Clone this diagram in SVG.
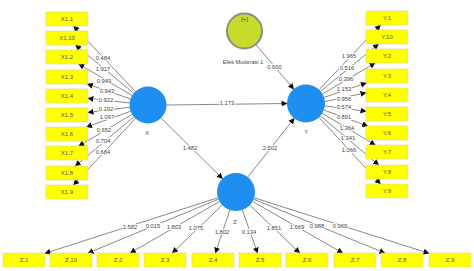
<svg xmlns="http://www.w3.org/2000/svg" width="474" height="271" viewBox="0 0 474 271">
<defs>
<marker id="ah" markerUnits="userSpaceOnUse" markerWidth="6" markerHeight="6" refX="5.5" refY="3" orient="auto">
<path d="M0,0 L6,3 L0,6 Z" fill="#111"/>
</marker>
<style>
.box{fill:#ffff00;stroke:#d8d890;stroke-width:0.6}
.bt{font-family:"Liberation Sans",Arial,sans-serif;font-size:6px;fill:#555;text-anchor:middle;dominant-baseline:central}
.lat{fill:#1e8ff0}
.mod{fill:#c6db2c;stroke:#8a8f80;stroke-width:2}
.cl{font-family:"Liberation Sans",Arial,sans-serif;font-size:5.6px;fill:#444;text-anchor:middle;dominant-baseline:central}
.ln{stroke:#555;stroke-width:0.7;fill:none;marker-end:url(#ah)}
.wl{font-family:"Liberation Sans",Arial,sans-serif;font-size:5.8px;fill:#444;text-anchor:middle;dominant-baseline:central;stroke:#fff;stroke-width:2;paint-order:stroke}
</style>
</defs>
<rect width="474" height="271" fill="#fff"/>
<g id="connectors">
<line class="ln" x1="135.7" y1="91.9" x2="73.6" y2="26"/>
<line class="ln" x1="134.1" y1="93.5" x2="75.5" y2="45"/>
<line class="ln" x1="132.5" y1="95.8" x2="78.8" y2="64"/>
<line class="ln" x1="131" y1="99.1" x2="87.3" y2="84"/>
<line class="ln" x1="130.1" y1="103" x2="88" y2="98.3"/>
<line class="ln" x1="130.1" y1="107.2" x2="88" y2="112.4"/>
<line class="ln" x1="131" y1="111.1" x2="86.5" y2="127"/>
<line class="ln" x1="132.5" y1="114.2" x2="78.8" y2="146"/>
<line class="ln" x1="134.2" y1="116.6" x2="75.3" y2="166"/>
<line class="ln" x1="135.7" y1="118.2" x2="73.5" y2="185"/>
<line class="ln" x1="319.1" y1="89.7" x2="380.4" y2="25"/>
<line class="ln" x1="320.7" y1="91.4" x2="378.5" y2="44"/>
<line class="ln" x1="322.4" y1="93.9" x2="375.1" y2="63"/>
<line class="ln" x1="324" y1="97.4" x2="366.4" y2="83"/>
<line class="ln" x1="324.9" y1="101.5" x2="366" y2="92.8"/>
<line class="ln" x1="324.8" y1="105.9" x2="366" y2="111.3"/>
<line class="ln" x1="323.9" y1="110" x2="367.8" y2="126"/>
<line class="ln" x1="322.3" y1="113.3" x2="375.3" y2="145"/>
<line class="ln" x1="320.5" y1="115.8" x2="378.7" y2="165"/>
<line class="ln" x1="318.9" y1="117.4" x2="380.5" y2="184"/>
<line class="ln" x1="217.9" y1="197.8" x2="45" y2="253.3"/>
<line class="ln" x1="218.4" y1="199.2" x2="88" y2="253"/>
<line class="ln" x1="219.5" y1="201.5" x2="130.2" y2="253"/>
<line class="ln" x1="222.3" y1="205.1" x2="172.3" y2="253"/>
<line class="ln" x1="229.9" y1="210" x2="215.4" y2="253"/>
<line class="ln" x1="242.3" y1="209.9" x2="257.5" y2="253"/>
<line class="ln" x1="249.7" y1="205.1" x2="299.7" y2="253"/>
<line class="ln" x1="252.5" y1="201.4" x2="342.7" y2="253"/>
<line class="ln" x1="253.6" y1="199.2" x2="384.9" y2="253"/>
<line class="ln" x1="254.1" y1="197.8" x2="429" y2="253.3"/>
<line class="ln" x1="166" y1="105" x2="287" y2="103.5"/>
<line class="ln" x1="160.8" y1="117.7" x2="222.5" y2="178.6"/>
<line class="ln" x1="247.8" y1="177.1" x2="294.2" y2="118.4"/>
<line class="ln" x1="256.1" y1="44.8" x2="293.7" y2="89"/>
<text class="wl" x="103" y="58">0.484</text>
<text class="wl" x="103" y="69">1.917</text>
<text class="wl" x="104" y="81">0.949</text>
<text class="wl" x="107" y="91">0.943</text>
<text class="wl" x="106" y="100">0.922</text>
<text class="wl" x="106" y="109">0.192</text>
<text class="wl" x="107" y="117">1.097</text>
<text class="wl" x="104" y="130">0.652</text>
<text class="wl" x="103" y="141">0.704</text>
<text class="wl" x="103" y="152">0.684</text>
<text class="wl" x="349" y="56">1.965</text>
<text class="wl" x="347" y="68">0.516</text>
<text class="wl" x="346" y="79">0.396</text>
<text class="wl" x="344" y="89">1.153</text>
<text class="wl" x="344" y="99">0.956</text>
<text class="wl" x="344" y="107">0.574</text>
<text class="wl" x="344" y="117">0.891</text>
<text class="wl" x="347" y="128">1.364</text>
<text class="wl" x="348" y="138">1.341</text>
<text class="wl" x="349" y="150">1.066</text>
<text class="wl" x="130" y="227">1.582</text>
<text class="wl" x="153" y="226">0.015</text>
<text class="wl" x="174" y="227">1.803</text>
<text class="wl" x="196" y="228">1.075</text>
<text class="wl" x="222" y="232">1.802</text>
<text class="wl" x="249" y="232">0.134</text>
<text class="wl" x="274" y="228">1.851</text>
<text class="wl" x="297" y="227">1.669</text>
<text class="wl" x="317" y="226">0.988</text>
<text class="wl" x="340" y="226">0.969</text>
<text class="wl" x="227" y="103">1.173</text>
<text class="wl" x="190" y="148">1.482</text>
<text class="wl" x="270" y="148">2.502</text>
<text class="wl" x="274.5" y="67">0.600</text>
</g>
<g id="X"><circle class="lat" cx="148" cy="105" r="18.5"/><text class="cl" x="147" y="133">X</text></g>
<g id="Y"><circle class="lat" cx="306" cy="103.5" r="19"/><text class="cl" x="306" y="132">Y</text></g>
<g id="Z"><circle class="lat" cx="236" cy="192" r="19"/><text class="cl" x="235" y="222">Z</text></g>
<g id="EfekModerasi1"><circle class="mod" cx="244.5" cy="31" r="17.5"/><text class="cl" x="244.5" y="19">[+]</text><text class="cl" x="243" y="62">Efek Moderasi 1</text></g>
<g id="X1.1"><rect class="box" x="46" y="12" width="42" height="14"/><text class="bt" x="67" y="19">X1.1</text></g>
<g id="X1.10"><rect class="box" x="46" y="31" width="42" height="14"/><text class="bt" x="67" y="38">X1.10</text></g>
<g id="X1.2"><rect class="box" x="46" y="50" width="42" height="14"/><text class="bt" x="67" y="57">X1.2</text></g>
<g id="X1.3"><rect class="box" x="46" y="70" width="42" height="14"/><text class="bt" x="67" y="77">X1.3</text></g>
<g id="X1.4"><rect class="box" x="46" y="89" width="42" height="14"/><text class="bt" x="67" y="96">X1.4</text></g>
<g id="X1.5"><rect class="box" x="46" y="108" width="42" height="14"/><text class="bt" x="67" y="115">X1.5</text></g>
<g id="X1.6"><rect class="box" x="46" y="127" width="42" height="14"/><text class="bt" x="67" y="134">X1.6</text></g>
<g id="X1.7"><rect class="box" x="46" y="146" width="42" height="14"/><text class="bt" x="67" y="153">X1.7</text></g>
<g id="X1.8"><rect class="box" x="46" y="166" width="42" height="14"/><text class="bt" x="67" y="173">X1.8</text></g>
<g id="X1.9"><rect class="box" x="46" y="185" width="42" height="14"/><text class="bt" x="67" y="192">X1.9</text></g>
<g id="Y.1"><rect class="box" x="366" y="11" width="42" height="14"/><text class="bt" x="387" y="18">Y.1</text></g>
<g id="Y.10"><rect class="box" x="366" y="30" width="42" height="14"/><text class="bt" x="387" y="37">Y.10</text></g>
<g id="Y.2"><rect class="box" x="366" y="49" width="42" height="14"/><text class="bt" x="387" y="56">Y.2</text></g>
<g id="Y.3"><rect class="box" x="366" y="69" width="42" height="14"/><text class="bt" x="387" y="76">Y.3</text></g>
<g id="Y.4"><rect class="box" x="366" y="88" width="42" height="14"/><text class="bt" x="387" y="95">Y.4</text></g>
<g id="Y.5"><rect class="box" x="366" y="107" width="42" height="14"/><text class="bt" x="387" y="114">Y.5</text></g>
<g id="Y.6"><rect class="box" x="366" y="126" width="42" height="14"/><text class="bt" x="387" y="133">Y.6</text></g>
<g id="Y.7"><rect class="box" x="366" y="145" width="42" height="14"/><text class="bt" x="387" y="152">Y.7</text></g>
<g id="Y.8"><rect class="box" x="366" y="165" width="42" height="14"/><text class="bt" x="387" y="172">Y.8</text></g>
<g id="Y.9"><rect class="box" x="366" y="184" width="42" height="14"/><text class="bt" x="387" y="191">Y.9</text></g>
<g id="Z.1"><rect class="box" x="3" y="253" width="42" height="14"/><text class="bt" x="24" y="260">Z.1</text></g>
<g id="Z.10"><rect class="box" x="50" y="253" width="42" height="14"/><text class="bt" x="71" y="260">Z.10</text></g>
<g id="Z.2"><rect class="box" x="97" y="253" width="42" height="14"/><text class="bt" x="118" y="260">Z.2</text></g>
<g id="Z.3"><rect class="box" x="144" y="253" width="42" height="14"/><text class="bt" x="165" y="260">Z.3</text></g>
<g id="Z.4"><rect class="box" x="192" y="253" width="42" height="14"/><text class="bt" x="213" y="260">Z.4</text></g>
<g id="Z.5"><rect class="box" x="239" y="253" width="42" height="14"/><text class="bt" x="260" y="260">Z.5</text></g>
<g id="Z.6"><rect class="box" x="286" y="253" width="42" height="14"/><text class="bt" x="307" y="260">Z.6</text></g>
<g id="Z.7"><rect class="box" x="334" y="253" width="42" height="14"/><text class="bt" x="355" y="260">Z.7</text></g>
<g id="Z.8"><rect class="box" x="381" y="253" width="42" height="14"/><text class="bt" x="402" y="260">Z.8</text></g>
<g id="Z.9"><rect class="box" x="429" y="253" width="42" height="14"/><text class="bt" x="450" y="260">Z.9</text></g>
</svg>
